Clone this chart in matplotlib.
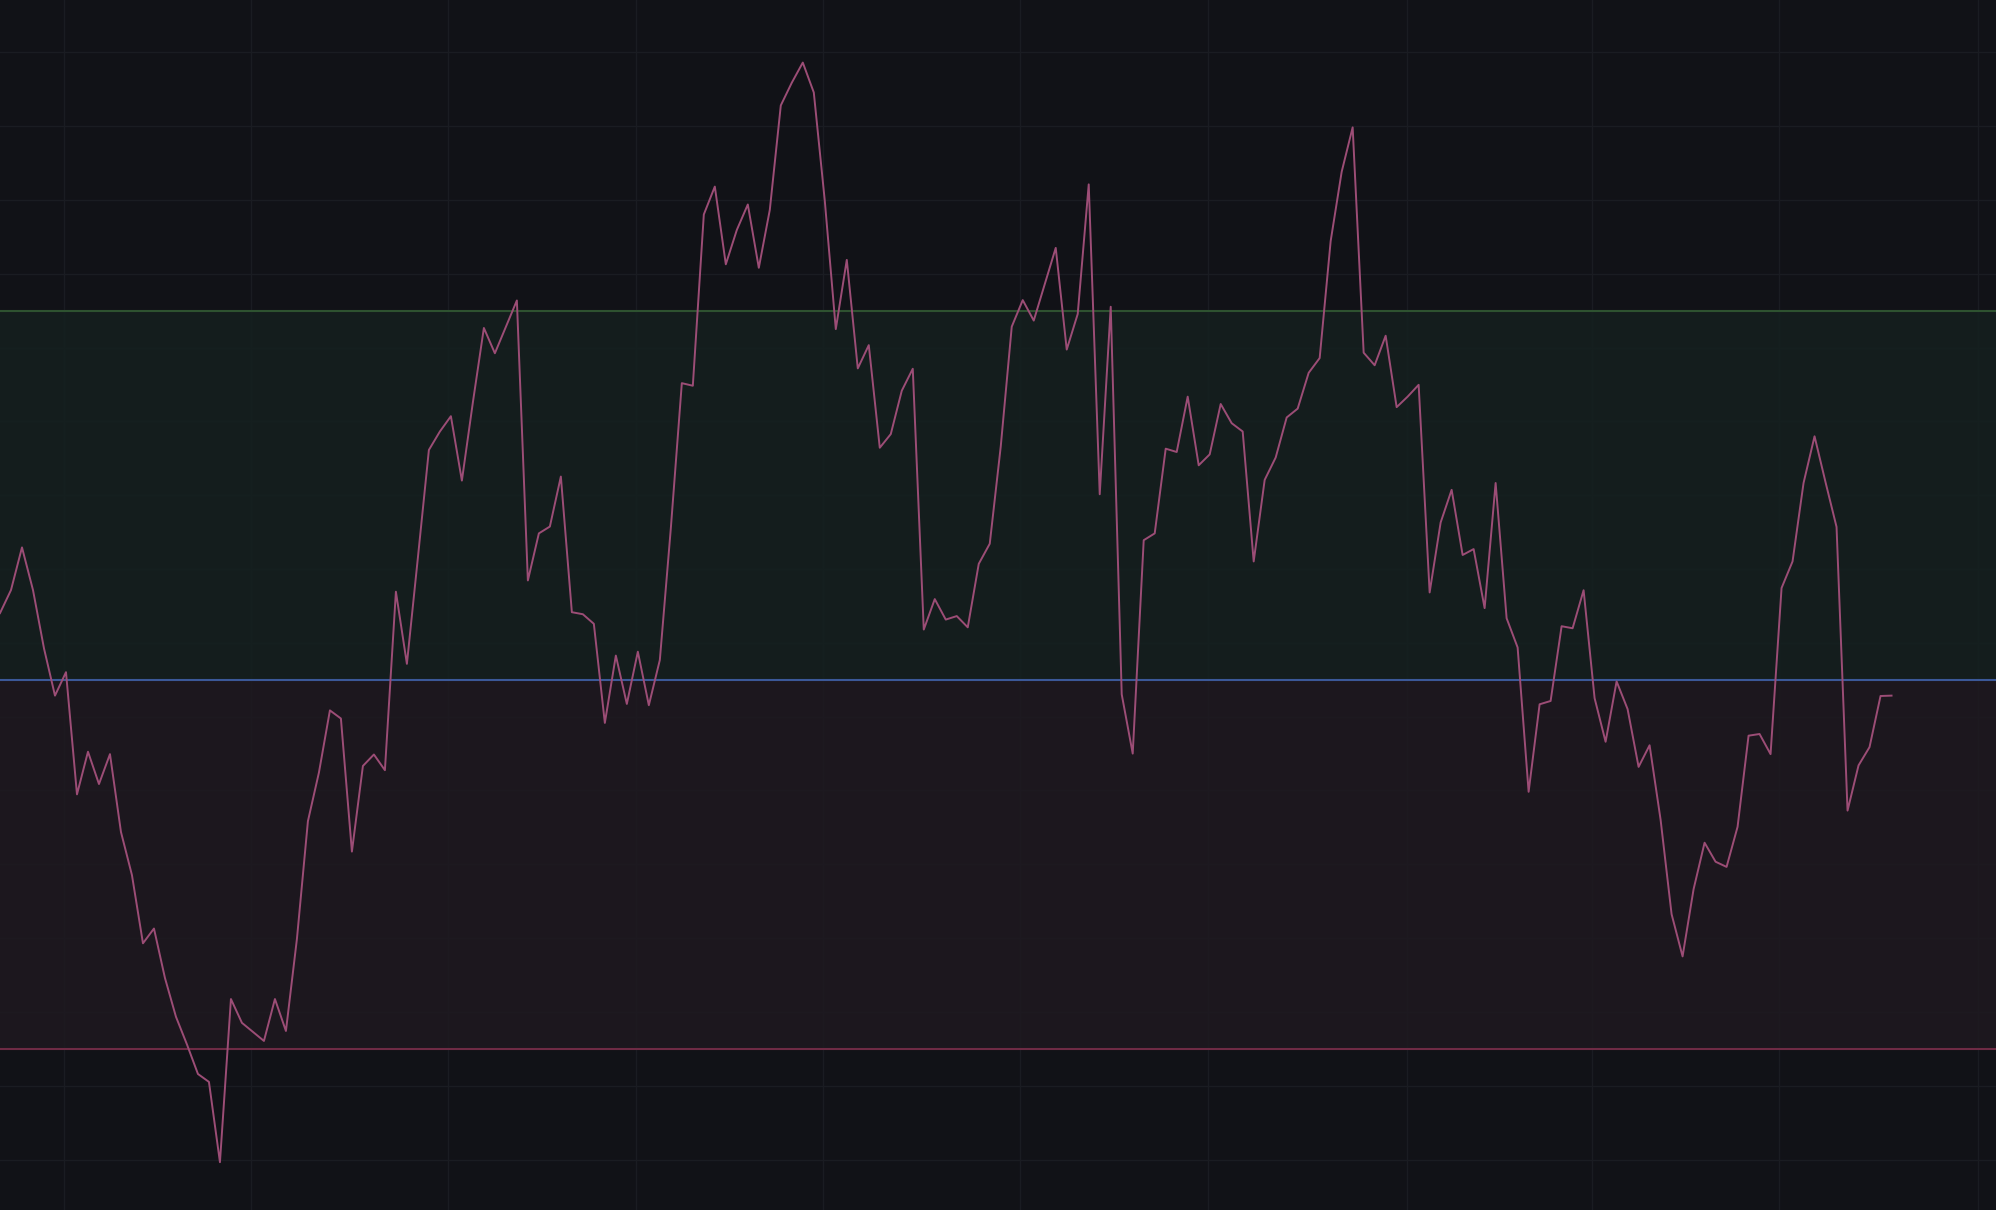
import numpy as np
import matplotlib
matplotlib.use("Agg")
import matplotlib.pyplot as plt

# oscillator values, one per bar
rsi = [53.61, 54.86, 57.17, 54.86, 51.70, 49.14, 50.41, 43.79, 46.10, 44.35,
       45.97, 41.75, 39.41, 35.72, 36.52, 33.84, 31.74, 30.24, 28.64, 28.21,
       23.86, 32.70, 31.41, 30.92, 30.43, 32.70, 30.97, 35.96, 42.34, 44.97,
       48.34, 47.90, 40.69, 45.33, 45.95, 45.10, 54.77, 50.86, 56.62, 62.45,
       63.45, 64.28, 60.79, 65.03, 69.06, 67.69, 69.12, 70.55, 55.38, 57.93,
       58.30, 61.01, 53.66, 53.55, 53.03, 47.66, 51.31, 48.69, 51.52, 48.62,
       51.07, 58.21, 66.07, 65.93, 75.21, 76.72, 72.51, 74.37, 75.75, 72.32,
       75.46, 81.12, 82.35, 83.44, 81.82, 75.95, 69.00, 72.75, 66.87, 68.13,
       62.57, 63.31, 65.66, 66.85, 52.72, 54.37, 53.26, 53.45, 52.84, 56.28,
       57.37, 62.64, 69.13, 70.57, 69.46, 71.42, 73.40, 67.89, 69.82, 76.84,
       60.05, 70.21, 49.21, 46.00, 57.56, 57.93, 62.52, 62.34, 65.34, 61.62,
       62.21, 64.94, 63.90, 63.45, 56.41, 60.83, 62.04, 64.21, 64.69, 66.63,
       67.43, 73.77, 77.52, 79.93, 67.72, 67.04, 68.64, 64.77, 65.34, 65.98,
       54.73, 58.52, 60.29, 56.76, 57.08, 53.88, 60.66, 53.33, 51.75, 43.93,
       48.67, 48.85, 52.90, 52.79, 54.85, 49.00, 46.64, 49.91, 48.41, 45.28,
       46.45, 42.42, 37.30, 35.01, 38.65, 41.17, 40.14, 39.86, 42.03, 46.97,
       47.06, 45.97, 54.97, 56.41, 60.66, 63.19, 60.70, 58.28, 42.91, 45.36,
       46.35, 49.12, 49.14]

upper = 70
middle = 50
lower = 30

# time grid positions (in bar units)
time_grid = [5.82, 22.82, 40.73, 57.82, 74.82, 92.73, 109.82, 127.9, 144.8, 161.8, 179.9]
level_grid = [24, 28, 32, 36, 40, 44, 48, 52, 56, 60, 64, 68, 72, 76, 80, 84]

bg = "#111217"
x = np.arange(len(rsi))

fig = plt.figure(figsize=(19.96, 12.10), dpi=100, facecolor=bg)
ax = fig.add_axes([0, 0, 1, 1])
ax.set_facecolor(bg)

ax.set_xlim(0, 181.5)
ax.set_ylim(21.27, 86.83)

# faint grid
for g in time_grid:
    ax.axvline(g, color="#1a1c22", lw=1.0, zorder=0)
for g in level_grid:
    ax.axhline(g, color="#1a1c22", lw=1.0, zorder=0)

# zones
ax.axhspan(middle, upper, color="#15201f", alpha=0.85, lw=0, zorder=1)
ax.axhspan(lower, middle, color="#1e1920", alpha=0.85, lw=0, zorder=1)

ax.axhline(upper, color="#2e5230", lw=1.5, zorder=2)
ax.axhline(middle, color="#3b5898", lw=1.5, zorder=2)
ax.axhline(lower, color="#6e2b45", lw=1.5, zorder=2)

ax.plot(x, rsi, color="#9c4d76", lw=1.4, zorder=3)

ax.set_xticks([])
ax.set_yticks([])
for s in ax.spines.values():
    s.set_visible(False)

plt.savefig("out.png", dpi=100, facecolor=bg)
